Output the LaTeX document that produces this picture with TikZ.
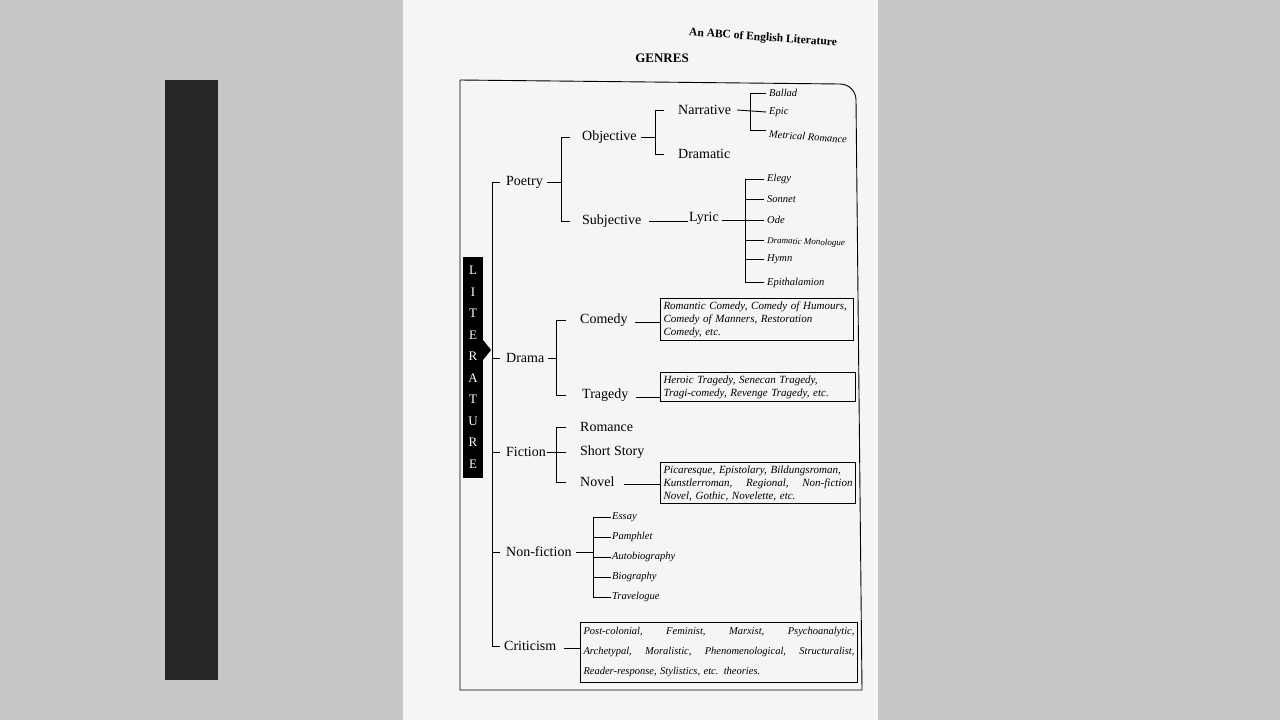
\documentclass[tikz,border=0pt]{standalone}
\usepackage{fontspec}
\setmainfont{Liberation Serif}
\begin{document}
\begin{tikzpicture}[x=1pt,y=-1pt,
  lab/.style={anchor=west,inner sep=1pt,font=\fontsize{14}{14}\selectfont},
  it/.style={anchor=west,inner sep=1pt,font=\itshape\fontsize{10.5}{10.5}\selectfont},
  boxt/.style={draw,line width=1pt,anchor=north west,inner sep=3pt,align=left,font=\itshape\fontsize{11}{13}\selectfont,text width=#1},
  ln/.style={line width=0.9pt}]
\useasboundingbox (0,0) rectangle (1280,720);
\fill[gray!45] (0,0) rectangle (1280,720);
\fill[gray!8] (403,0) rectangle (878,720);
\fill[black!85] (165,80) rectangle (218,680);
\node[font=\bfseries\fontsize{11.5}{11.5}\selectfont,rotate=-4] (hdr) at (763,38) {An ABC of English Literature};
\node[font=\bfseries\fontsize{13}{13}\selectfont] (gen) at (662,58) {GENRES};
\draw[line width=0.9pt] (460,80) -- (840,84) to[out=0,in=90] (856,100) -- (862,690) -- (460,690) -- cycle;
% LITERATURE
\fill[black] (463,257) rectangle (483,478);
\fill[black] (483,340) -- (491,350) -- (483,360) -- cycle;
\node[text=white,align=center,font=\fontsize{13}{21.5}\selectfont,inner sep=0] (lit) at (473,367) {L\\I\\T\\E\\R\\A\\T\\U\\R\\E};
% main spine
\draw[ln] (500,182) -- (492,182) -- (492,646) -- (500,646);
\foreach \y in {358,452,552} \draw[ln] (492,\y) -- (500,\y);
\node[lab] (poetry) at (505,182) {Poetry};
\node[lab] (drama) at (505,358) {Drama};
\node[lab] (fiction) at (505,452) {Fiction};
\node[lab] (nonf) at (505,552) {Non-fiction};
\node[lab] (crit) at (503,646) {Criticism};
% Poetry
\draw[ln] ([xshift=3pt]poetry.east) -- (561,182);
\draw[ln] (570,137) -- (561,137) -- (561,221) -- (570,221);
\node[lab] (obj) at (581,137) {Objective};
\node[lab] (subj) at (581,221) {Subjective};
\draw[ln] ([xshift=3pt]obj.east) -- (655,137);
\draw[ln] (664,110) -- (655,110) -- (655,154) -- (664,154);
\node[lab] (narr) at (677,110) {Narrative};
\node[lab] (dram) at (677,154) {Dramatic};
\draw[ln] ([xshift=5pt]narr.east) -- (766,112);
\draw[ln] (766,93) -- (750,93) -- (750,130) -- (766,130);
\node[it] (ballad) at (768,93) {Ballad};
\node[it] (epic) at (768,112) {Epic};
\node[it,rotate=-4] (metr) at (768,134) {Metrical Romance};
\draw[ln] ([xshift=6pt]subj.east) -- (688,221);
\node[lab] (lyric) at (688,218) {Lyric};
\draw[ln] ([xshift=2pt,yshift=-2pt]lyric.east) -- (764,220);
\draw[ln] (764,179) -- (745,179) -- (745,282) -- (764,282);
\foreach \y in {199,240,259} \draw[ln] (745,\y) -- (764,\y);
\node[it] (elegy) at (766,179) {Elegy};
\node[it] (sonnet) at (766,199) {Sonnet};
\node[it] (ode) at (766,220) {Ode};
\node[it,font=\itshape\fontsize{9}{9}\selectfont,rotate=-2] (dmon) at (766,241) {Dramatic Monologue};
\node[it] (hymn) at (766,259) {Hymn};
\node[it] (epith) at (766,283) {Epithalamion};
% Drama
\draw[ln] ([xshift=3pt]drama.east) -- (556,358);
\draw[ln] (566,320) -- (556,320) -- (556,395) -- (566,395);
\node[lab] (com) at (579,320) {Comedy};
\node[lab] (trag) at (581,395) {Tragedy};
\node[boxt=187pt] (combox) at (660,298) {Romantic Comedy, Comedy of Humours,\\ Comedy of Manners, Restoration\\ Comedy, etc.};
\node[boxt=189pt] (tragbox) at (660,372) {Heroic Tragedy, Senecan Tragedy,\\ Tragi-comedy, Revenge Tragedy, etc.};
\draw[ln] ([xshift=6pt,yshift=-2pt]com.east) -- (combox.west |- 0,322);
\draw[ln] ([xshift=6pt,yshift=-2pt]trag.east) -- (tragbox.west |- 0,397);
% Fiction
\draw[ln] (fiction.east) -- (556,452);
\draw[ln] (566,427) -- (556,427) -- (556,482) -- (566,482);
\draw[ln] (556,452) -- (566,452);
\node[lab] (rom) at (579,427) {Romance};
\node[lab] (short) at (579,452) {Short Story};
\node[lab] (novel) at (579,482) {Novel};
\node[boxt=189pt] (novbox) at (660,462) {Picaresque, Epistolary, Bildungsroman,\\ Kunstlerroman,\hfill Regional,\hfill Non-fiction\\ Novel, Gothic, Novelette, etc.};
\draw[ln] ([xshift=8pt,yshift=-2pt]novel.east) -- (novbox.west |- 0,484);
% Non-fiction
\draw[ln] ([xshift=3pt]nonf.east) -- (593,552);
\draw[ln] (611,517) -- (593,517) -- (593,597) -- (611,597);
\foreach \y in {537,557,577} \draw[ln] (593,\y) -- (611,\y);
\node[it] (essay) at (611,517) {Essay};
\node[it] (pamph) at (611,537) {Pamphlet};
\node[it] (auto) at (611,557) {Autobiography};
\node[it] (bio) at (611,577) {Biography};
\node[it] (trav) at (611,597) {Travelogue};
% Criticism
\node[boxt=271pt,font=\itshape\fontsize{10.5}{20}\selectfont,inner ysep=5pt] (critbox) at (580,622) {Post-colonial,\hfill Feminist,\hfill Marxist,\hfill Psychoanalytic,\\ Archetypal,\hfill Moralistic,\hfill Phenomenological,\hfill Structuralist,\\ Reader-response, Stylistics, etc. theories.};
\draw[ln] ([xshift=6pt,yshift=-2pt]crit.east) -- (critbox.west |- 0,648);
\end{tikzpicture}
\end{document}
